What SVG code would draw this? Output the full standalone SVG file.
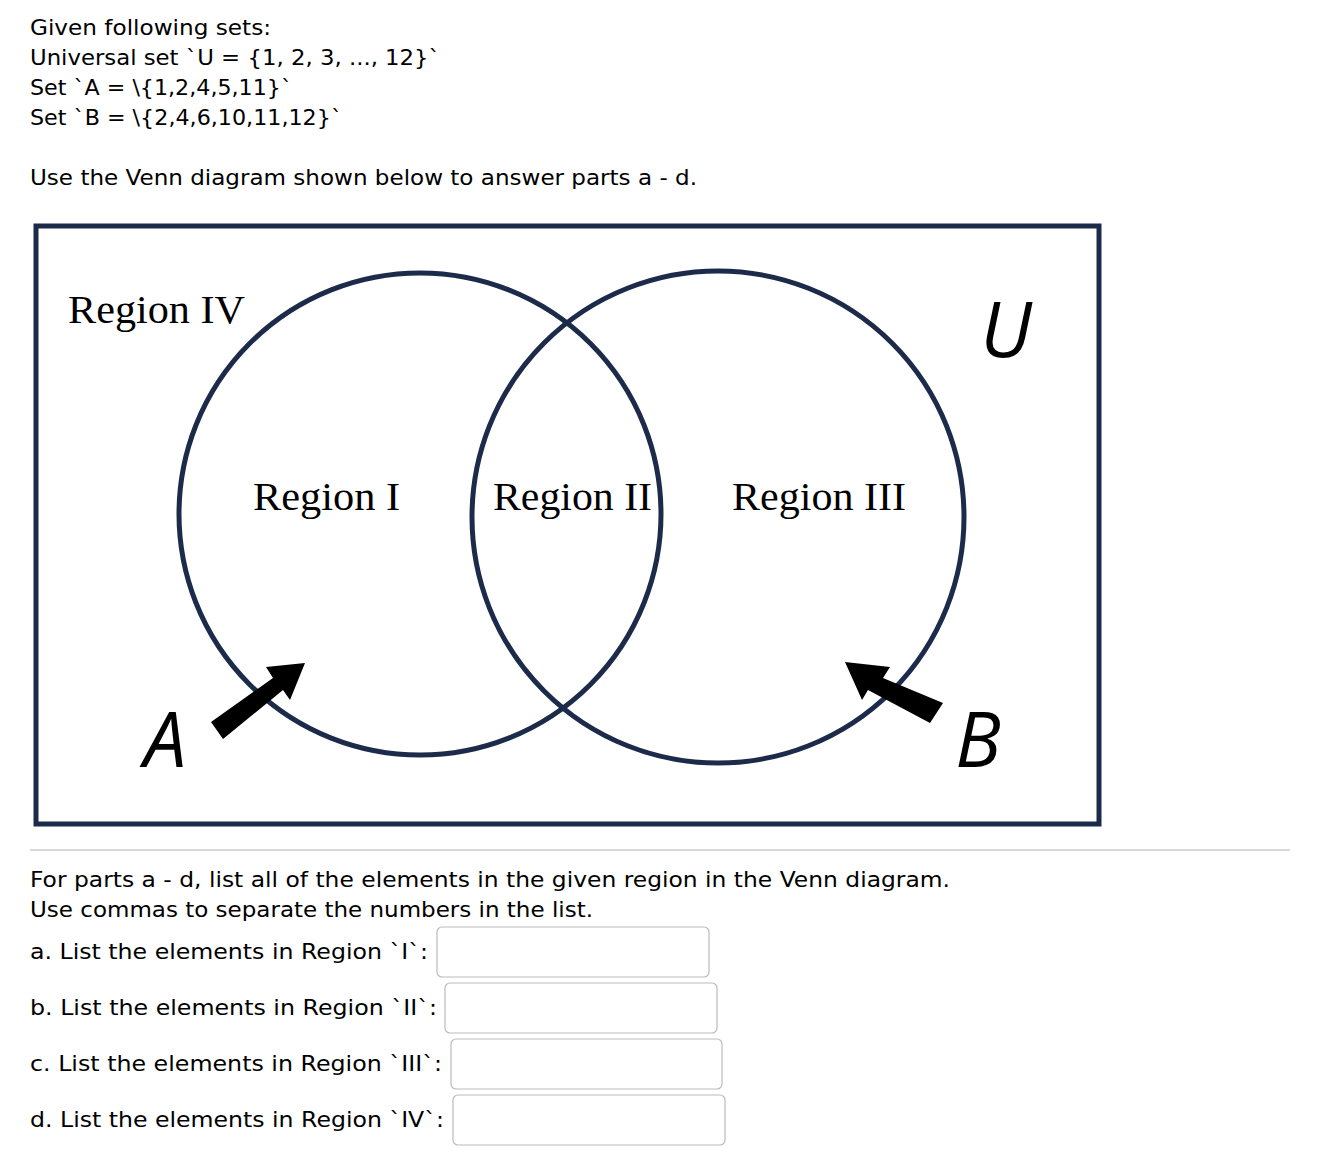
<svg xmlns="http://www.w3.org/2000/svg" width="1330" height="1166" viewBox="0 0 1330 1166">
<style>
.t{font-family:"DejaVu Sans",sans-serif;font-size:21px;fill:#000}
.r{font-family:"Liberation Serif",serif;font-size:40px;fill:#000}
.l{font-family:"Open Sans",sans-serif;font-style:italic;font-size:76px;fill:#000}
.c{fill:none;stroke:#1d2b4b;stroke-width:5}
.in{fill:#fff;stroke:#bbb;stroke-width:1.2}
</style>
<rect width="1330" height="1166" fill="#fff"/>
<g id="intro">
<text class="t" x="30" y="35" textLength="241" lengthAdjust="spacingAndGlyphs">Given following sets:</text>
<text class="t" x="30" y="65" textLength="410" lengthAdjust="spacingAndGlyphs">Universal set `U = {1, 2, 3, ..., 12}`</text>
<text class="t" x="30" y="95" textLength="262" lengthAdjust="spacingAndGlyphs">Set `A = \{1,2,4,5,11}`</text>
<text class="t" x="30" y="125" textLength="312" lengthAdjust="spacingAndGlyphs">Set `B = \{2,4,6,10,11,12}`</text>
<text class="t" x="30" y="185" textLength="667" lengthAdjust="spacingAndGlyphs">Use the Venn diagram shown below to answer parts a - d.</text>
</g>
<g id="universe"><rect class="c" x="36" y="226" width="1063" height="598" stroke-width="6"/>
<text class="l" x="1006" y="357" text-anchor="middle">U</text></g>
<g id="setA"><circle class="c" cx="420" cy="514" r="241"/></g>
<g id="setB"><circle class="c" cx="718" cy="517" r="246"/></g>
<g id="labels">
<text class="r" x="68" y="323" textLength="177" lengthAdjust="spacingAndGlyphs">Region IV</text>
<text class="r" x="253" y="510" textLength="147" lengthAdjust="spacingAndGlyphs">Region I</text>
<text class="r" x="493" y="510" textLength="159" lengthAdjust="spacingAndGlyphs">Region II</text>
<text class="r" x="732" y="510" textLength="174" lengthAdjust="spacingAndGlyphs">Region III</text>
<text class="l" x="165" y="767" text-anchor="middle">A</text>
<text class="l" x="978" y="767" text-anchor="middle">B</text>
</g>
<g id="connectors">
<polygon points="211,722 273,678 266,667 305,663 290,700 283,690 223,739" fill="#000"/>
<polygon points="943,703 883,678 890,667 845,662 862,700 868,690 930,723" fill="#000"/>
</g>
<line x1="30" y1="850" x2="1290" y2="850" stroke="#ccc" stroke-width="1.5"/>
<g id="questions">
<text class="t" x="30" y="887" textLength="920" lengthAdjust="spacingAndGlyphs">For parts a - d, list all of the elements in the given region in the Venn diagram.</text>
<text class="t" x="30" y="917" textLength="563" lengthAdjust="spacingAndGlyphs">Use commas to separate the numbers in the list.</text>
<text class="t" x="30" y="959" textLength="398" lengthAdjust="spacingAndGlyphs">a. List the elements in Region `I`:</text>
<rect class="in" x="437" y="927" width="272" height="50" rx="5"/>
<text class="t" x="30" y="1015" textLength="407" lengthAdjust="spacingAndGlyphs">b. List the elements in Region `II`:</text>
<rect class="in" x="445" y="983" width="272" height="50" rx="5"/>
<text class="t" x="30" y="1071" textLength="412" lengthAdjust="spacingAndGlyphs">c. List the elements in Region `III`:</text>
<rect class="in" x="451" y="1039" width="271" height="50" rx="5"/>
<text class="t" x="30" y="1127" textLength="414" lengthAdjust="spacingAndGlyphs">d. List the elements in Region `IV`:</text>
<rect class="in" x="453" y="1095" width="272" height="50" rx="5"/>
</g>
</svg>
